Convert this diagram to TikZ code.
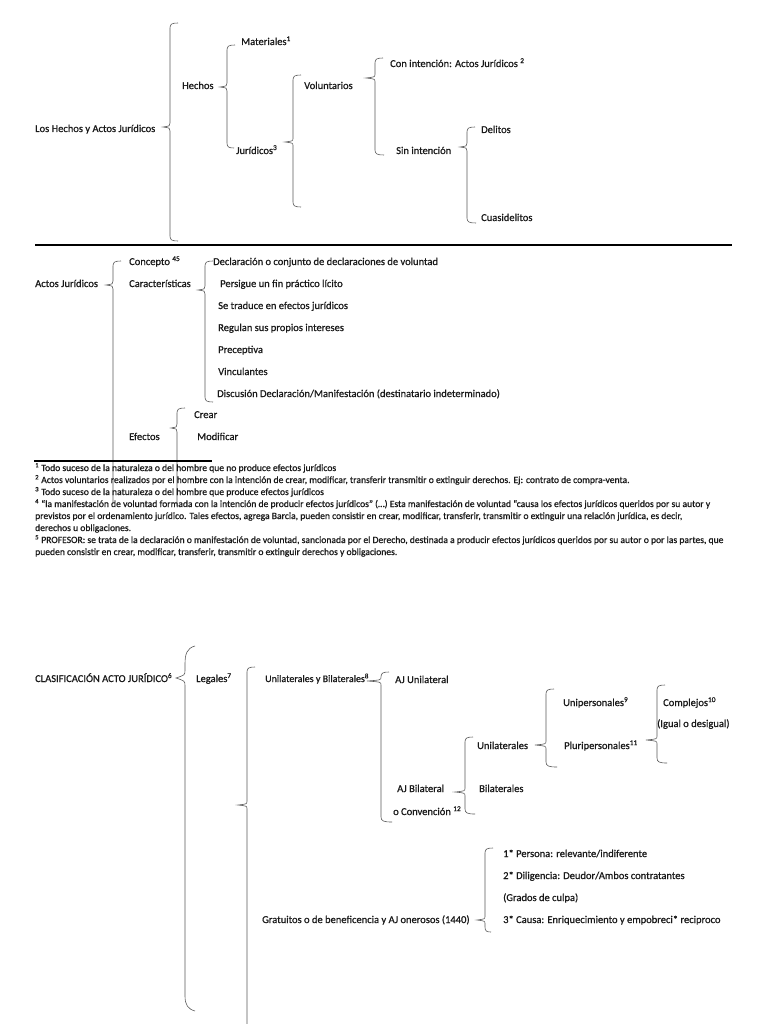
\documentclass[tikz,border=0pt]{standalone}
\usepackage{fontspec}
\setmainfont{Carlito}[UprightFeatures={FakeBold=0.7}]
\usepackage{tikz}

% Word-like bracket: x, top, tip, bottom, tip length, bottom hook
\newcommand{\wbrace}[6]{%
  \draw[brk] (#1+8,#2) .. controls (#1+2,#2) and (#1,#2+1) .. (#1,#2+5)
    -- (#1,#3-4) .. controls (#1,#3-1) .. (#1-#5,#3)
    .. controls (#1,#3+1) .. (#1,#3+4)
    -- (#1,#4-5) .. controls (#1,#4-1) and (#1+#6/4,#4) .. (#1+#6,#4);}

\begin{document}
\begin{tikzpicture}[x=1pt, y=-1pt,
    txt/.style={anchor=base west, inner sep=0pt, font=\fontsize{10.5}{12}\selectfont, text=black!90},
    note/.style={anchor=base west, inner sep=0pt, font=\fontsize{9.6}{11}\selectfont, text=black!90},
    brk/.style={draw=black!65, line width=0.6pt},
    rule/.style={draw=black, line width=1.2pt}
]
    \fill[white] (0,0) rectangle (768,1024);
    \useasboundingbox (0,0) rectangle (768,1024);

    % Hechos y actos
    \node[txt] (hyaj) at (35,132) {Los Hechos y Actos Jurídicos};
    \node[txt] (hechos) at (182,89) {Hechos};
    \node[txt] (materiales) at (241,45) {Materiales\textsuperscript{1}};
    \node[txt] (juridicos) at (236,154) {Jurídicos\textsuperscript{3}};
    \node[txt] (voluntarios) at (304,89) {Voluntarios};
    \node[txt] (con_int) at (390,67) {Con intención: Actos Jurídicos \textsuperscript{2}};
    \node[txt] (sin_int) at (396,154) {Sin intención};
    \node[txt] (delitos) at (481,133) {Delitos};
    \node[txt] (cuasi) at (481,221) {Cuasidelitos};

    \wbrace{170}{23}{127}{241}{7}{8}
    \wbrace{227}{45}{87}{148}{7}{7}
    \wbrace{293}{75}{142}{207}{8}{8}
    \wbrace{375}{58}{78}{155}{9}{9}
    \wbrace{467}{127}{147}{223}{7}{9}

    \draw[rule] (35,245) -- (732,245);

    % Actos juridicos
    \node[txt] (actos) at (35,287) {Actos Jurídicos};
    \node[txt] (concepto) at (129,265) {Concepto \textsuperscript{45}};
    \node[txt] (caract) at (129,287) {Características};
    \node[txt] (declar) at (213,265) {Declaración o conjunto de declaraciones de voluntad};
    \node[txt] (persigue) at (220,287) {Persigue un fin práctico lícito};
    \node[txt] (traduce) at (218,309) {Se traduce en efectos jurídicos};
    \node[txt] (regulan) at (218,331) {Regulan sus propios intereses};
    \node[txt] (precept) at (218,353) {Preceptiva};
    \node[txt] (vincul) at (218,375) {Vinculantes};
    \node[txt] (discus) at (217,397) {Discusión Declaración/Manifestación (destinatario indeterminado)};
    \node[txt] (efectos) at (129,440) {Efectos};
    \node[txt] (crear) at (194,418) {Crear};
    \node[txt] (modif) at (197,440) {Modificar};

    \wbrace{113}{261}{285}{502}{7}{0}
    \wbrace{205}{261}{290}{402}{7}{8}
    \wbrace{177}{408}{428}{506}{6}{0}

    % Footnotes
    \draw[rule, line width=1.4pt] (34,461) -- (212,461);
    \node[note] (fn1) at (35,471) {\textsuperscript{1} Todo suceso de la naturaleza o del hombre que no produce efectos jurídicos};
    \node[note] (fn2) at (35,483) {\textsuperscript{2} Actos voluntarios realizados por el hombre con la intención de crear, modificar, transferir transmitir o extinguir derechos. Ej: contrato de compra-venta.};
    \node[note] (fn3) at (35,495) {\textsuperscript{3} Todo suceso de la naturaleza o del hombre que produce efectos jurídicos};
    \node[note] (fn4) at (35,507) {\textsuperscript{4} “la manifestación de voluntad formada con la intención de producir efectos jurídicos” (…) Esta manifestación de voluntad “causa los efectos jurídicos queridos por su autor y};
    \node[note] (fn4b) at (35,519) {previstos por el ordenamiento jurídico. Tales efectos, agrega Barcia, pueden consistir en crear, modificar, transferir, transmitir o extinguir una relación jurídica, es decir,};
    \node[note] (fn4c) at (35,531) {derechos u obligaciones.};
    \node[note] (fn5) at (35,543) {\textsuperscript{5} PROFESOR: se trata de la declaración o manifestación de voluntad, sancionada por el Derecho, destinada a producir efectos jurídicos queridos por su autor o por las partes, que};
    \node[note] (fn5b) at (35,555) {pueden consistir en crear, modificar, transferir, transmitir o extinguir derechos y obligaciones.};

    % Clasificacion
    \node[txt] (clasif) at (35,682) {CLASIFICACIÓN ACTO JURÍDICO\textsuperscript{6}};
    \node[txt] (legales) at (196,682) {Legales\textsuperscript{7}};
    \node[txt, font=\fontsize{10}{12}\selectfont] (unibi) at (265,682) {Unilaterales y Bilaterales\textsuperscript{8}};
    \node[txt] (aj_uni) at (395,683) {AJ Unilateral};
    \node[txt] (aj_bi) at (397,792) {AJ Bilateral};
    \node[txt] (o_conv) at (393,815) {o Convención \textsuperscript{12}};
    \node[txt] (unilat) at (477,749) {Unilaterales};
    \node[txt] (bilat) at (479,792) {Bilaterales};
    \node[txt] (uniper) at (563,706) {Unipersonales\textsuperscript{9}};
    \node[txt] (pluriper) at (564,749) {Pluripersonales\textsuperscript{11}};
    \node[txt] (complejos) at (663,706) {Complejos\textsuperscript{10}};
    \node[txt] (igual) at (657,727) {(Igual o desigual)};
    \node[txt] (gratuitos) at (262,923) {Gratuitos o de beneficencia y AJ onerosos (1440)};
    \node[txt] (persona) at (503,857) {1* Persona: relevante/indiferente};
    \node[txt] (diligencia) at (503,879) {2* Diligencia: Deudor/Ambos contratantes};
    \node[txt] (grados) at (503,901) {(Grados de culpa)};
    \node[txt] (causa) at (503,923) {3* Causa: Enriquecimiento y empobreci* reciproco};

    \draw[brk] (195,646) .. controls (187,648) and (185,654) .. (185,664)
        -- (185,670) .. controls (185,675) .. (176,678)
        .. controls (185,681) .. (185,686)
        -- (185,996) .. controls (185,1005) and (188,1009) .. (195,1011);
    \wbrace{247}{667}{805}{1030}{9}{0}
    \wbrace{381}{672}{681}{822}{14}{11}
    \wbrace{465}{737}{792}{814}{10}{10}
    \wbrace{546}{689}{745}{767}{11}{11}
    \wbrace{657}{685}{740}{763}{11}{10}
    \wbrace{485}{848}{920}{932}{8}{6}

\end{tikzpicture}
\end{document}
